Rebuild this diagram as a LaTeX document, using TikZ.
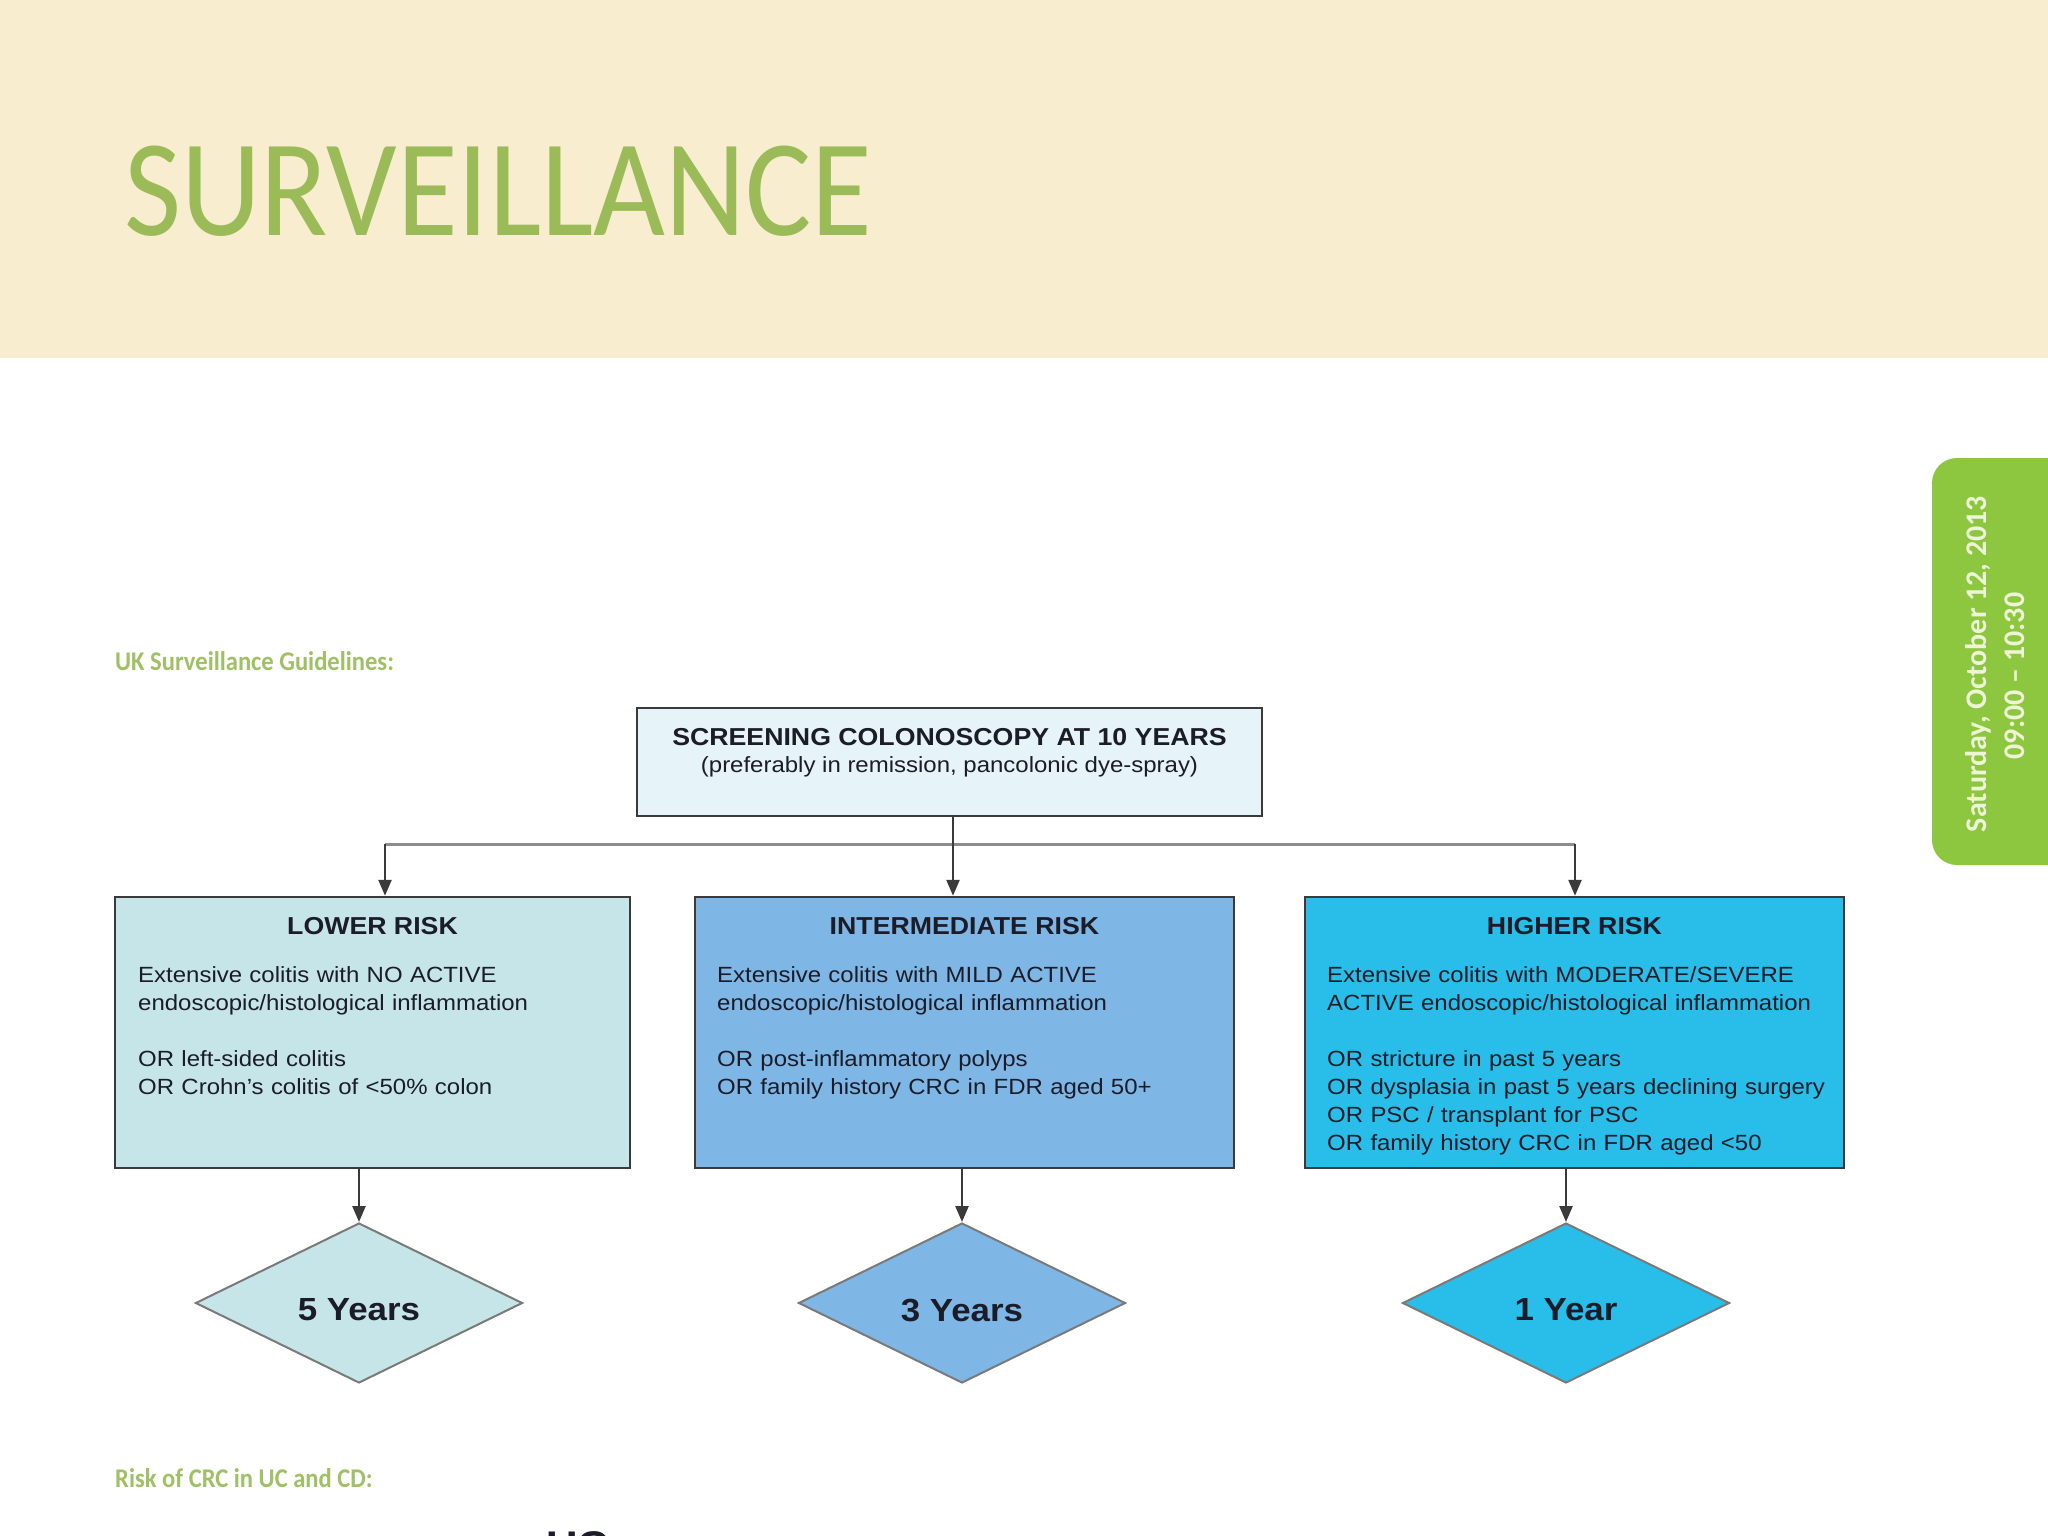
\documentclass[tikz,border=0pt]{standalone}
\usepackage{fontspec}
\setmainfont{Liberation Sans}[FakeStretch=1.09]
\newfontfamily\titlefont{Carlito}[FakeStretch=0.9]
\newfontfamily\labfont{Carlito}
\newfontfamily\narrowlabfont{Carlito}[FakeStretch=0.91]
\usetikzlibrary{shapes.geometric,arrows.meta}
\definecolor{bandcol}{HTML}{F8EDCF}
\definecolor{titlegreen}{HTML}{9BBB59}
\definecolor{labgreen}{HTML}{9FC064}
\definecolor{tabgreen}{HTML}{8DC63F}
\definecolor{tabtext}{HTML}{EEF5D6}
\definecolor{topfill}{HTML}{E6F3F8}
\definecolor{lowfill}{HTML}{C5E5E9}
\definecolor{midfill}{HTML}{7EB6E5}
\definecolor{highfill}{HTML}{29BDE9}
\definecolor{boxline}{HTML}{3A3A3A}
\definecolor{boxtext}{HTML}{1C1C28}
\definecolor{hgray}{HTML}{8C8C8C}
\definecolor{dline}{HTML}{7A7A7A}
\begin{document}
\begin{tikzpicture}[x=1pt,y=-1pt,
  riskbox/.style={draw=boxline, line width=2.5pt, inner sep=0pt},
  boxtitle/.style={anchor=base, inner sep=0pt, text=boxtext, font=\bfseries\fontsize{24.5}{28}\selectfont},
  boxbody/.style={anchor=base west, inner sep=0pt, text=boxtext, align=left, text width=520pt, font=\fontsize{22}{28}\selectfont},
  yrs/.style={diamond, draw=dline, line width=2pt, minimum width=327pt, minimum height=160pt, inner sep=0pt},
  yrstxt/.style={inner sep=0pt, text=boxtext, font=\bfseries\fontsize{32}{36}\selectfont},
  glabel/.style={anchor=base west, inner sep=0pt, text=labgreen, font=\narrowlabfont\bfseries\fontsize{27}{30}\selectfont},
  tabtxt/.style={rotate=90, inner sep=0pt, text=tabtext, font=\labfont\bfseries\fontsize{30}{32}\selectfont},
  arr/.style={draw=boxline, line width=2.5pt, -{Triangle[length=16pt,width=13pt]}},
  vline/.style={draw=boxline, line width=2.5pt},
  hline/.style={draw=hgray, line width=3pt}]
\useasboundingbox (0,0) rectangle (2048,1536);
\fill[white] (0,0) rectangle (2048,1536);
\fill[bandcol] (0,0) rectangle (2048,358);
\node[anchor=base west, inner sep=0pt, text=titlegreen, font=\titlefont\fontsize{138}{140}\selectfont] (title) at (124,235) {SURVEILLANCE};
% side tab
\fill[tabgreen, rounded corners=25pt] (1932,458) rectangle (2110,865);
\node[tabtxt] (date) at (1978,664) {Saturday, October 12, 2013};
\node[tabtxt] (time) at (2015,676) {09:00 – 10:30};
% labels
\node[glabel] (uk) at (115,670) {UK Surveillance Guidelines:};
\node[glabel] (risk) at (115,1487) {Risk of CRC in UC and CD:};
\node[anchor=base west, inner sep=0pt, text=boxtext, font=\bfseries\fontsize{40}{44}\selectfont] (uc) at (546,1559) {UC};
% top box
\node[riskbox, fill=topfill, minimum width=625pt, minimum height=108pt] (top) at (949.5,762) {};
\node[boxtitle] (topt) at (949.5,745) {SCREENING COLONOSCOPY AT 10 YEARS};
\node[anchor=base, inner sep=0pt, text=boxtext, font=\fontsize{22}{28}\selectfont] (tops) at (949.5,772) {(preferably in remission, pancolonic dye-spray)};
% risk boxes
\node[riskbox, fill=lowfill, minimum width=515pt, minimum height=271pt] (low) at (372.5,1032.5) {};
\node[riskbox, fill=midfill, minimum width=539pt, minimum height=271pt] (mid) at (964.5,1032.5) {};
\node[riskbox, fill=highfill, minimum width=539pt, minimum height=271pt] (high) at (1574.5,1032.5) {};
\node[boxtitle] (lowt) at (372.5,934) {LOWER RISK};
\node[boxtitle] (midt) at (964.5,934) {INTERMEDIATE RISK};
\node[boxtitle] (hight) at (1574.5,934) {HIGHER RISK};
\node[boxbody] (lowb) at (138,982) {Extensive colitis with NO ACTIVE\\endoscopic/histological inflammation\\[28pt]OR left-sided colitis\\OR Crohn’s colitis of <50\% colon};
\node[boxbody] (midb) at (717,982) {Extensive colitis with MILD ACTIVE\\endoscopic/histological inflammation\\[28pt]OR post-inflammatory polyps\\OR family history CRC in FDR aged 50+};
\node[boxbody] (highb) at (1327,982) {Extensive colitis with MODERATE/SEVERE\\ACTIVE endoscopic/histological inflammation\\[28pt]OR stricture in past 5 years\\OR dysplasia in past 5 years declining surgery\\OR PSC / transplant for PSC\\OR family history CRC in FDR aged <50};
% diamonds
\node[yrs, fill=lowfill] (d1) at (359,1303) {};
\node[yrs, fill=midfill] (d2) at (962,1303) {};
\node[yrs, fill=highfill] (d3) at (1566,1303) {};
\node[yrstxt] (d1t) at (359,1310) {5 Years};
\node[yrstxt] (d2t) at (962,1310) {3 Years};
\node[yrstxt] (d3t) at (1566,1310) {1 Year};
% connectors
\coordinate (j1) at (385,844);
\coordinate (jm) at (953,844);
\coordinate (j3) at (1575,844);
\draw[hline] (j1) -- (j3);
\draw[vline] (top.south -| jm) -- (jm);
\draw[arr] (j1) -- (j1 |- low.north);
\draw[arr] (jm) -- (jm |- mid.north);
\draw[arr] (j3) -- (j3 |- high.north);
\draw[arr] (low.south -| d1.north) -- (d1.north);
\draw[arr] (mid.south -| d2.north) -- (d2.north);
\draw[arr] (high.south -| d3.north) -- (d3.north);
\end{tikzpicture}
\end{document}
